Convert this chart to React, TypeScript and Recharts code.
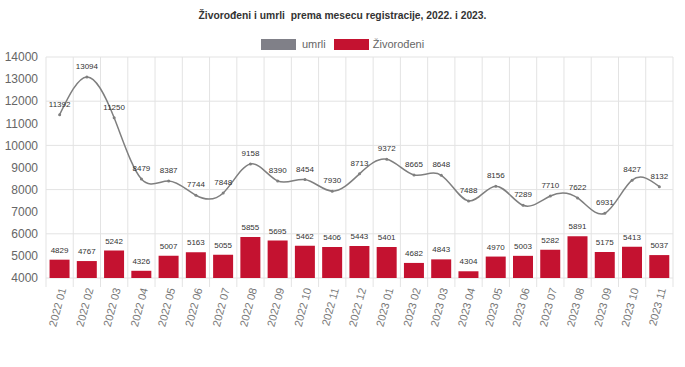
import React from "react";
import {
  ComposedChart,
  Bar,
  Line,
  XAxis,
  YAxis,
  CartesianGrid,
  LabelList,
} from "recharts";

const months = [
  "2022 01", "2022 02", "2022 03", "2022 04", "2022 05", "2022 06",
  "2022 07", "2022 08", "2022 09", "2022 10", "2022 11", "2022 12",
  "2023 01", "2023 02", "2023 03", "2023 04", "2023 05", "2023 06",
  "2023 07", "2023 08", "2023 09", "2023 10", "2023 11",
];

const umrli = [
  11392, 13094, 11250, 8479, 8387, 7744, 7848, 9158, 8390, 8454, 7930, 8713,
  9372, 8665, 8648, 7488, 8156, 7289, 7710, 7622, 6931, 8427, 8132,
];

const zivorodjeni = [
  4829, 4767, 5242, 4326, 5007, 5163, 5055, 5855, 5695, 5462, 5406, 5443,
  5401, 4682, 4843, 4304, 4970, 5003, 5282, 5891, 5175, 5413, 5037,
];

const yTicks = [4000, 5000, 6000, 7000, 8000, 9000, 10000, 11000, 12000, 13000, 14000];

const data = months.map((m, i) => ({
  month: m,
  umrli: umrli[i],
  zivorodjeni: zivorodjeni[i],
}));

const W = 685;
const H = 367;
const LEFT = 46;
const RIGHT = 12;
const PLOT_W = W - LEFT - RIGHT;
const STEP = PLOT_W / months.length;

const FONT = "'Liberation Sans', Arial, sans-serif";
const LINE_COLOR = "#7f7f7f";
const BAR_COLOR = "#c41230";

function XTick(props: any) {
  const { x, y, payload, index } = props;
  const last = index === months.length - 1;
  return (
    <g transform={`translate(${x},${y})`}>
      <line x1={-STEP / 2} y1={0} x2={-STEP / 2} y2={9} stroke="#e3e3e3" />
      {last && <line x1={STEP / 2} y1={0} x2={STEP / 2} y2={9} stroke="#e3e3e3" />}
      <text
        x={0}
        y={0}
        dy="0.35em"
        transform="translate(3,10) rotate(-75)"
        textAnchor="end"
        fontSize={11}
        fill="#777"
        fontFamily={FONT}
      >
        {payload.value}
      </text>
    </g>
  );
}

export default function App() {
  return (
    <div style={{ position: "absolute", left: 0, top: 0, width: W, height: H, background: "#fff", fontFamily: FONT }}>
      <div
        style={{
          position: "absolute",
          left: 0,
          top: 10,
          width: W,
          textAlign: "center",
          fontSize: 10.3,
          fontWeight: "bold",
          color: "#333",
          fontFamily: FONT,
        }}
      >
        Živorođeni i umrli&nbsp; prema mesecu registracije, 2022. i 2023.
      </div>
      <div
        style={{
          position: "absolute",
          left: 0,
          top: 38,
          width: W,
          display: "flex",
          justifyContent: "center",
          alignItems: "center",
          fontSize: 11,
          color: "#666",
          fontFamily: FONT,
        }}
      >
        <span style={{ display: "inline-block", width: 35, height: 11, background: "#808088", marginRight: 6 }} />
        <span style={{ marginRight: 8 }}>umrli</span>
        <span style={{ display: "inline-block", width: 35, height: 11, background: BAR_COLOR, marginRight: 4 }} />
        <span>Živorođeni</span>
      </div>
      <ComposedChart
        width={W}
        height={H}
        data={data}
        margin={{ top: 57, right: RIGHT, left: 8, bottom: 29 }}
        barCategoryGap="13%"
        style={{ position: "absolute", left: 0, top: 0 }}
      >
        <CartesianGrid
          stroke="#e3e3e3"
          verticalCoordinatesGenerator={() =>
            Array.from({ length: months.length + 1 }, (_, i) => LEFT + i * STEP)
          }
        />
        <XAxis
          dataKey="month"
          axisLine={false}
          tickLine={false}
          tickSize={0}
          tickMargin={0}
          height={60}
          interval={0}
          tick={<XTick />}
        />
        <YAxis
          domain={[4000, 14000]}
          ticks={yTicks}
          allowDataOverflow
          axisLine={false}
          tickLine={false}
          width={38}
          tickMargin={2}
          tick={{ fontSize: 12, fill: "#666", fontFamily: FONT }}
        />
        <Bar dataKey="zivorodjeni" fill={BAR_COLOR} isAnimationActive={false}>
          <LabelList dataKey="zivorodjeni" position="top" offset={7} fontSize={8} fill="#333" fontFamily={FONT} />
        </Bar>
        <Line
          type="natural"
          dataKey="umrli"
          stroke={LINE_COLOR}
          strokeWidth={1.5}
          dot={{ r: 1.5, fill: LINE_COLOR, stroke: LINE_COLOR, strokeWidth: 0 }}
          isAnimationActive={false}
        >
          <LabelList dataKey="umrli" position="top" offset={8} fontSize={8} fill="#333" fontFamily={FONT} />
        </Line>
      </ComposedChart>
    </div>
  );
}
